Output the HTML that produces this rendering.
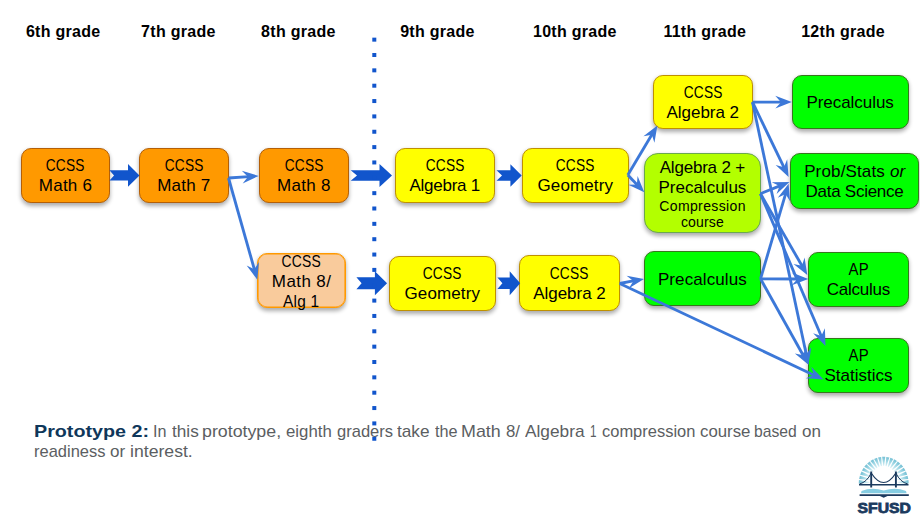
<!DOCTYPE html>
<html><head><meta charset="utf-8"><style>
html,body{margin:0;padding:0;background:#fff;width:920px;height:518px;overflow:hidden;position:relative;font-family:"Liberation Sans",sans-serif;}
.h{position:absolute;top:22px;font-weight:bold;font-size:16px;letter-spacing:0.28px;color:#000;white-space:nowrap;line-height:20px;}
.b{position:absolute;box-sizing:border-box;border:1px solid;border-radius:9px;box-shadow:0 2.5px 4px rgba(0,0,0,0.33);display:flex;flex-direction:column;justify-content:center;align-items:center;text-align:center;color:#000;}
.b div{white-space:nowrap;line-height:20px;font-size:16.5px;letter-spacing:0.3px;position:relative;top:1px;}
.b div.s{font-size:14px;line-height:16.6px;letter-spacing:0.25px;top:0.6px;}
svg{position:absolute;left:0;top:0;}
.foot{position:absolute;left:34px;top:421.7px;font-size:17px;line-height:19.7px;color:#5b5e62;white-space:nowrap;word-spacing:-1.3px;letter-spacing:0.15px;}
.foot b{display:inline-block;font-size:17px;letter-spacing:0;word-spacing:0;transform:scaleX(1.16);transform-origin:0 0;width:112.5px;margin-right:6.6px;}
.foot b{color:#0f375a;}
.fw{position:absolute;font-size:17px;line-height:19.7px;color:#5b5e62;white-space:nowrap;transform-origin:0 0;}
</style></head><body>
<div class="h" style="left:25.9px">6th grade</div>
<div class="h" style="left:141.1px">7th grade</div>
<div class="h" style="left:261.1px">8th grade</div>
<div class="h" style="left:400.2px">9th grade</div>
<div class="h" style="left:533.0px">10th grade</div>
<div class="h" style="left:663.4px">11th grade</div>
<div class="h" style="left:801.2px">12th grade</div>
<div class="b" style="left:20.8px;top:147.5px;width:89.2px;height:55.3px;background:#ff9900;border-color:#b45f06;border-radius:10.1px;"><div class="" style="font-size:17px;transform:scaleX(0.806);">CCSS</div><div class="" style="font-size:17px;letter-spacing:0.22px;text-indent:0.22px;">Math 6</div></div>
<div class="b" style="left:138.7px;top:147.5px;width:90.2px;height:55.3px;background:#ff9900;border-color:#b45f06;border-radius:10.1px;"><div class="" style="font-size:17px;transform:scaleX(0.806);">CCSS</div><div class="" style="font-size:17px;letter-spacing:0.22px;text-indent:0.22px;">Math 7</div></div>
<div class="b" style="left:258.5px;top:147.5px;width:90.5px;height:55.5px;background:#ff9900;border-color:#b45f06;border-radius:10.1px;"><div class="" style="font-size:17px;transform:scaleX(0.806);">CCSS</div><div class="" style="font-size:17px;letter-spacing:0.30px;text-indent:0.30px;">Math 8</div></div>
<div class="b" style="left:256.5px;top:252.5px;width:89.8px;height:55.8px;background:#f9cb9c;border-color:#ff9900;border-radius:10.1px;padding-top:2px;box-shadow:0 2.5px 4px rgba(0,0,0,0.33), inset 0 0 0 0.6px #ff9900;"><div class="" style="font-size:17px;transform:scaleX(0.815);">CCSS</div><div class="" style="font-size:17px;letter-spacing:0.40px;text-indent:0.40px;">Math 8/</div><div class="" style="font-size:17px;transform:scaleX(0.906);">Alg 1</div></div>
<div class="b" style="left:394.8px;top:147.5px;width:100.1px;height:55.4px;background:#ffff00;border-color:#bf9000;border-radius:10.1px;"><div class="" style="font-size:17px;transform:scaleX(0.806);">CCSS</div><div class="" style="font-size:17px;letter-spacing:-0.24px;text-indent:-0.24px;">Algebra 1</div></div>
<div class="b" style="left:388.8px;top:255.8px;width:106.9px;height:55.2px;background:#ffff00;border-color:#bf9000;border-radius:10.0px;"><div class="" style="font-size:17px;transform:scaleX(0.806);">CCSS</div><div class="" style="font-size:17px;letter-spacing:0.14px;text-indent:0.14px;">Geometry</div></div>
<div class="b" style="left:522.0px;top:147.5px;width:106.5px;height:55.4px;background:#ffff00;border-color:#bf9000;border-radius:10.1px;"><div class="" style="font-size:17px;transform:scaleX(0.806);">CCSS</div><div class="" style="font-size:17px;letter-spacing:0.14px;text-indent:0.14px;">Geometry</div></div>
<div class="b" style="left:518.8px;top:254.9px;width:101.4px;height:55.7px;background:#ffff00;border-color:#bf9000;border-radius:10.1px;"><div class="" style="font-size:17px;transform:scaleX(0.806);">CCSS</div><div class="" style="font-size:17px;letter-spacing:-0.05px;text-indent:-0.05px;">Algebra 2</div></div>
<div class="b" style="left:652.5px;top:74.8px;width:100.5px;height:54.4px;background:#ffff00;border-color:#bf9000;border-radius:9.9px;"><div class="" style="font-size:17px;transform:scaleX(0.806);">CCSS</div><div class="" style="font-size:17px;letter-spacing:-0.05px;text-indent:-0.05px;">Algebra 2</div></div>
<div class="b" style="left:643.8px;top:153.2px;width:117.2px;height:79.7px;background:#b3ff00;border-color:#6aa84f;border-radius:14.1px;padding-top:1px;"><div class="" style="font-size:17px;letter-spacing:-0.20px;text-indent:-0.20px;">Algebra 2 +</div><div class="" style="font-size:17px;letter-spacing:0.01px;text-indent:0.01px;">Precalculus</div><div class="s" style="font-size:14px;letter-spacing:0.38px;text-indent:0.38px;">Compression</div><div class="s" style="font-size:14px;letter-spacing:0.17px;text-indent:0.17px;">course</div></div>
<div class="b" style="left:643.7px;top:251.0px;width:117.3px;height:55.1px;background:#00ff00;border-color:#38761d;border-radius:10.0px;"><div class="" style="font-size:17px;letter-spacing:0.10px;text-indent:0.10px;">Precalculus</div></div>
<div class="b" style="left:791.5px;top:74.5px;width:117.3px;height:54.8px;background:#00ff00;border-color:#38761d;border-radius:10.0px;"><div class="" style="font-size:17px;letter-spacing:-0.05px;text-indent:-0.05px;">Precalculus</div></div>
<div class="b" style="left:790.4px;top:153.4px;width:128.5px;height:55.3px;background:#00ff00;border-color:#38761d;border-radius:10.1px;"><div class="" style="font-size:17px;letter-spacing:0.15px;text-indent:0.15px;">Prob/Stats <i>or</i></div><div class="" style="font-size:17px;letter-spacing:-0.27px;text-indent:-0.27px;">Data Science</div></div>
<div class="b" style="left:808.0px;top:251.7px;width:101.0px;height:55.3px;background:#00ff00;border-color:#38761d;border-radius:10.1px;"><div class="" style="font-size:17px;transform:scaleX(0.877);">AP</div><div class="" style="font-size:17px;letter-spacing:-0.27px;text-indent:-0.27px;">Calculus</div></div>
<div class="b" style="left:808.0px;top:337.5px;width:101.0px;height:55.0px;background:#00ff00;border-color:#38761d;border-radius:10.0px;"><div class="" style="font-size:17px;transform:scaleX(0.877);">AP</div><div class="" style="font-size:17px;letter-spacing:-0.01px;text-indent:-0.01px;">Statistics</div></div>
<div class="foot"><b>Prototype 2:</b></div><span class="fw" style="left:153.3px;top:421.7px;transform:scaleX(0.951)">In</span><span class="fw" style="left:171.7px;top:421.7px;transform:scaleX(1.013)">this</span><span class="fw" style="left:202.3px;top:421.7px;transform:scaleX(1.046)">prototype,</span><span class="fw" style="left:285.9px;top:421.7px;transform:scaleX(0.988)">eighth</span><span class="fw" style="left:336.5px;top:421.7px;transform:scaleX(0.973)">graders</span><span class="fw" style="left:397.4px;top:421.7px;transform:scaleX(1.013)">take</span><span class="fw" style="left:434.8px;top:421.7px;transform:scaleX(0.954)">the</span><span class="fw" style="left:461.1px;top:421.7px;transform:scaleX(1.051)">Math</span><span class="fw" style="left:505.7px;top:421.7px;transform:scaleX(0.989)">8/</span><span class="fw" style="left:525.3px;top:421.7px;transform:scaleX(1.016)">Algebra</span><span class="fw" style="left:590.0px;top:421.7px;transform:scaleX(0.688)">1</span><span class="fw" style="left:601.5px;top:421.7px;transform:scaleX(0.969)">compression</span><span class="fw" style="left:699.7px;top:421.7px;transform:scaleX(0.989)">course</span><span class="fw" style="left:754.1px;top:421.7px;transform:scaleX(0.923)">based</span><span class="fw" style="left:801.7px;top:421.7px;transform:scaleX(1.002)">on</span><span class="fw" style="left:33.6px;top:442.0px;transform:scaleX(0.969)">readiness</span><span class="fw" style="left:109.9px;top:442.0px;transform:scaleX(1.003)">or</span><span class="fw" style="left:129.7px;top:442.0px;transform:scaleX(1.038)">interest.</span>
<svg width="920" height="518" viewBox="0 0 920 518">
<g fill="#1155cc">
<polygon points="109.50,170.20 128.00,170.20 128.00,164.10 139.50,175.40 128.00,186.70 128.00,180.60 109.50,180.60 114.00,175.40"/>
<polygon points="350.70,170.20 379.50,170.20 379.50,164.00 392.00,175.50 379.50,187.00 379.50,180.80 350.70,180.80 357.00,175.50"/>
<polygon points="496.50,170.25 510.40,170.25 510.40,164.30 521.70,175.50 510.40,186.70 510.40,180.75 496.50,180.75 502.00,175.50"/>
<polygon points="356.40,277.25 374.90,277.25 374.90,271.35 387.10,283.25 374.90,295.15 374.90,289.25 356.40,289.25 361.60,283.25"/>
<polygon points="497.40,277.50 509.70,277.50 509.70,271.30 520.20,283.30 509.70,295.30 509.70,289.10 497.40,289.10 502.40,283.30"/>
</g>
<g fill="#1155cc">
<rect x="372.3" y="37.65" width="4" height="4"/>
<rect x="372.3" y="53.00" width="4" height="4"/>
<rect x="372.3" y="68.35" width="4" height="4"/>
<rect x="372.3" y="83.70" width="4" height="4"/>
<rect x="372.3" y="99.05" width="4" height="4"/>
<rect x="372.3" y="114.40" width="4" height="4"/>
<rect x="372.3" y="129.75" width="4" height="4"/>
<rect x="372.3" y="145.10" width="4" height="4"/>
<rect x="372.3" y="160.45" width="4" height="4"/>
<rect x="372.3" y="175.80" width="4" height="4"/>
<rect x="372.3" y="191.15" width="4" height="4"/>
<rect x="372.3" y="206.50" width="4" height="4"/>
<rect x="372.3" y="221.85" width="4" height="4"/>
<rect x="372.3" y="237.20" width="4" height="4"/>
<rect x="372.3" y="252.55" width="4" height="4"/>
<rect x="372.3" y="267.90" width="4" height="4"/>
<rect x="372.3" y="283.25" width="4" height="4"/>
<rect x="372.3" y="298.60" width="4" height="4"/>
<rect x="372.3" y="313.95" width="4" height="4"/>
<rect x="372.3" y="329.30" width="4" height="4"/>
<rect x="372.3" y="344.65" width="4" height="4"/>
<rect x="372.3" y="360.00" width="4" height="4"/>
<rect x="372.3" y="375.35" width="4" height="4"/>
<rect x="372.3" y="390.70" width="4" height="4"/>
<rect x="372.3" y="406.05" width="4" height="4"/>
<rect x="372.3" y="421.40" width="4" height="4"/>
<rect x="372.3" y="436.75" width="4" height="4"/>
</g>
<g stroke="#3c78d8" stroke-width="2.85" fill="none">
<line x1="228.50" y1="178.00" x2="248.92" y2="176.58"/>
<line x1="228.50" y1="178.00" x2="254.63" y2="270.27"/>
<line x1="627.80" y1="174.90" x2="652.37" y2="133.81"/>
<line x1="627.80" y1="174.90" x2="637.56" y2="185.19"/>
<line x1="752.50" y1="102.20" x2="782.00" y2="102.12"/>
<line x1="752.50" y1="102.20" x2="784.34" y2="168.17"/>
<line x1="752.50" y1="102.20" x2="806.46" y2="355.22"/>
<line x1="760.40" y1="193.70" x2="780.41" y2="185.66"/>
<line x1="760.40" y1="193.70" x2="802.40" y2="266.51"/>
<line x1="760.40" y1="193.70" x2="821.65" y2="336.99"/>
<line x1="619.70" y1="283.50" x2="634.37" y2="280.72"/>
<line x1="619.70" y1="283.50" x2="814.64" y2="375.42"/>
<line x1="760.50" y1="278.80" x2="785.82" y2="193.10"/>
<line x1="760.50" y1="278.80" x2="798.50" y2="278.96"/>
<line x1="760.50" y1="278.80" x2="803.72" y2="356.24"/>
</g><g fill="#3c78d8"><polygon points="258.70,175.90 242.68,183.43 247.93,176.65 241.80,170.66"/><polygon points="257.30,279.70 246.65,265.57 254.36,269.31 258.96,262.08"/><polygon points="657.40,125.40 654.42,142.85 651.86,134.67 643.44,136.28"/><polygon points="644.30,192.30 628.30,184.73 636.87,184.46 637.59,175.92"/><polygon points="791.80,102.10 775.32,108.54 781.00,102.13 775.28,95.74"/><polygon points="788.60,177.00 775.66,164.92 783.91,167.27 787.19,159.36"/><polygon points="808.50,364.80 798.80,350.00 806.25,354.24 811.32,347.33"/><polygon points="789.50,182.00 776.58,194.09 779.48,186.03 771.80,182.22"/><polygon points="807.30,275.00 793.51,263.91 801.90,265.65 804.60,257.51"/><polygon points="825.50,346.00 813.13,333.34 821.26,336.07 824.90,328.31"/><polygon points="644.00,278.90 628.98,288.26 633.39,280.91 626.60,275.68"/><polygon points="823.50,379.60 805.85,378.35 813.73,374.99 811.31,366.77"/><polygon points="788.60,183.70 790.06,201.34 785.54,194.06 777.79,197.71"/><polygon points="808.30,279.00 791.77,285.33 797.50,278.95 791.83,272.53"/><polygon points="808.50,364.80 794.87,353.51 803.24,355.37 806.05,347.27"/></g>
</svg>
<svg width="920" height="518" viewBox="0 0 920 518" style="position:absolute;left:0;top:0">
<defs><radialGradient id="rg" cx="883.7" cy="484" r="25" gradientUnits="userSpaceOnUse" gradientTransform="translate(883.7 484) scale(1 1.1) translate(-883.7 -484)"><stop offset="0.55" stop-color="#f4fbfd"/><stop offset="0.8" stop-color="#a9dce8"/><stop offset="1" stop-color="#72bfd4"/></radialGradient></defs>
<g fill="url(#rg)" opacity="1"><polygon points="858.70,483.46 858.96,480.06 869.79,481.96 869.72,483.04"/><polygon points="859.13,478.99 859.90,475.68 870.24,479.01 870.03,480.06"/><polygon points="860.22,474.66 861.48,471.53 871.05,476.20 870.72,477.19"/><polygon points="861.95,470.58 863.67,467.72 872.21,473.60 871.76,474.50"/><polygon points="864.28,466.87 866.41,464.36 873.69,471.28 873.12,472.08"/><polygon points="867.14,463.63 869.61,461.53 875.43,469.31 874.78,469.98"/><polygon points="870.44,460.94 873.21,459.31 877.41,467.74 876.67,468.26"/><polygon points="874.11,458.88 877.08,457.77 879.55,466.62 878.76,466.97"/><polygon points="878.04,457.51 881.14,456.94 881.81,465.97 880.99,466.15"/><polygon points="882.13,456.85 885.27,456.85 884.12,465.81 883.28,465.81"/><polygon points="886.26,456.94 889.36,457.51 886.41,466.15 885.59,465.97"/><polygon points="890.32,457.77 893.29,458.88 888.64,466.97 887.85,466.62"/><polygon points="894.19,459.31 896.96,460.94 890.73,468.26 889.99,467.74"/><polygon points="897.79,461.53 900.26,463.63 892.62,469.98 891.97,469.31"/><polygon points="900.99,464.36 903.12,466.87 894.28,472.08 893.71,471.28"/><polygon points="903.73,467.72 905.45,470.58 895.64,474.50 895.19,473.60"/><polygon points="905.92,471.53 907.18,474.66 896.68,477.19 896.35,476.20"/><polygon points="907.50,475.68 908.27,478.99 897.37,480.06 897.16,479.01"/><polygon points="908.44,480.06 908.70,483.46 897.68,483.04 897.61,481.96"/></g>
<g stroke="#1b3a5e" fill="none" stroke-linecap="butt">
<line x1="871.2" y1="471.5" x2="871.2" y2="487.5" stroke-width="1.9"/>
<line x1="895.9" y1="471.5" x2="895.9" y2="487.5" stroke-width="1.9"/>
<line x1="859" y1="484.7" x2="908.5" y2="484.7" stroke-width="1.6"/>
<path d="M871.2,473 Q883.6,492 895.9,473" stroke-width="1.2"/>
<path d="M871.2,473 Q867,482 859.5,484" stroke-width="1.0"/>
<path d="M895.9,473 Q900,482 907.8,484" stroke-width="1.0"/>
</g>
<path d="M861.5,491 Q872,486.8 883.7,490.6 Q895.4,486.8 906,491 L906.6,493.2 L861,493.2 Z" fill="#86cde2"/>
<path d="M859.6,494.2 L908.8,494.2 L908.8,496 L887.5,496 L883.7,497.8 L879.9,496 L859.6,496 Z" fill="#1b3a5e"/>
<text x="857.5" y="513.4" font-family="Liberation Sans" font-weight="bold" font-size="14.6" fill="#1b3a5e" stroke="#1b3a5e" stroke-width="0.8" textLength="53.4" lengthAdjust="spacingAndGlyphs">SFUSD</text>
</svg>
</body></html>
